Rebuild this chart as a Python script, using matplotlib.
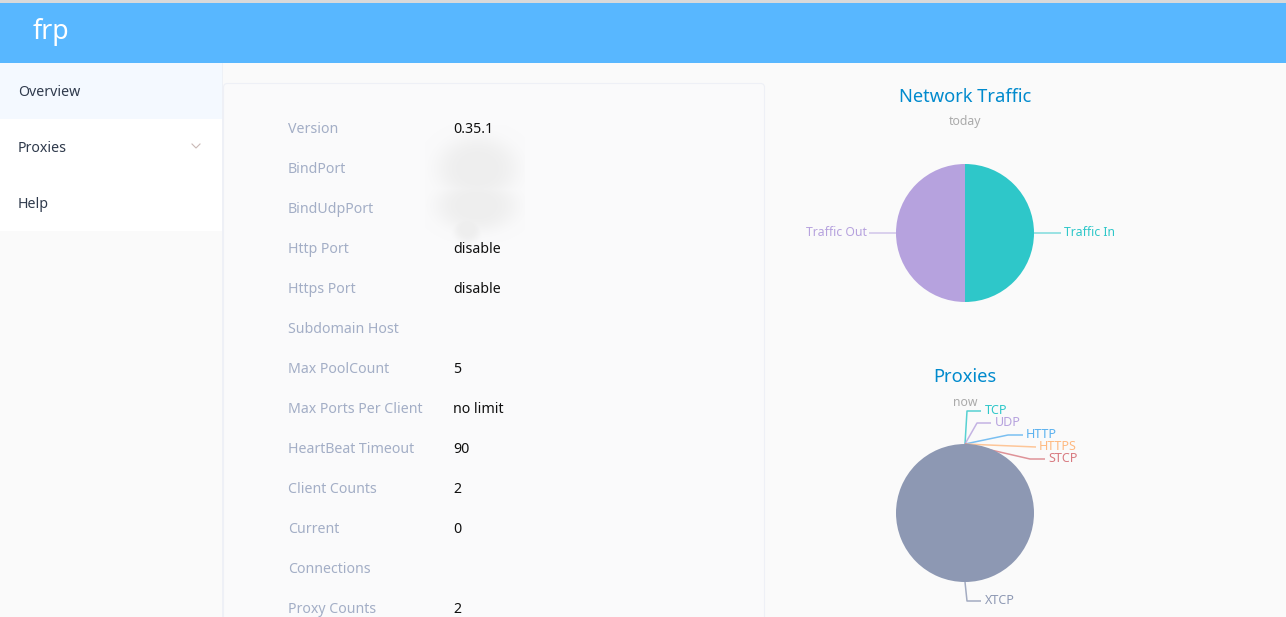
import matplotlib
matplotlib.use('Agg')
import numpy as np
import matplotlib.pyplot as plt
from matplotlib.patches import Rectangle, FancyBboxPatch

plt.rcParams['font.family'] = ['Noto Sans', 'DejaVu Sans']

# page content
menu_items = ['Overview', 'Proxies', 'Help']
info_labels = ['Version', 'BindPort', 'BindUdpPort', 'Http Port', 'Https Port',
               'Subdomain Host', 'Max PoolCount', 'Max Ports Per Client',
               'HeartBeat Timeout', 'Client Counts', 'Current', 'Connections',
               'Proxy Counts']
info_values = ['0.35.1', '', '', 'disable', 'disable', '', '5', 'no limit',
               '90', '2', '0', '', '2']

# pie data
traffic_labels = ['Traffic In', 'Traffic Out']
traffic_values = [50, 50]
traffic_colors = ['#2ec7c9', '#b6a2de']

proxy_labels = ['TCP', 'UDP', 'HTTP', 'HTTPS', 'STCP', 'XTCP']
proxy_values = [0, 0, 0, 0, 0, 2]
proxy_colors = ['#2ec7c9', '#b6a2de', '#5ab1ef', '#ffb980', '#d87a80', '#8d98b3']

W, H = 1286, 617
fig = plt.figure(figsize=(W / 100, H / 100), dpi=100, facecolor='#fafafa')
ax = fig.add_axes([0, 0, 1, 1])
ax.axis('off')


def rect(x, y, w, h, color, z=1):
    ax.add_patch(Rectangle((x, y), w, h, fc=color, ec='none', zorder=z))


def label(x, y, s, color, size=10.2, ha='left', **kw):
    # Noto Sans sits about 2px high with va=center
    ax.text(x, y + 2, s, color=color, fontsize=size, ha=ha, va='center', zorder=3, **kw)


# header
rect(0, 0, W, 3, '#d8d9da')
rect(0, 3, W, 60, '#58b7ff')
label(33, 30, 'frp', 'white', size=19.2)

# side menu
rect(0, 63, 222, 56, '#f4f9ff')
rect(0, 119, 222, 112, 'white')
rect(222, 63, 1, H - 63, '#eef1f6')
for i, name in enumerate(menu_items):
    label(18, 90.5 + i * 56, name, '#2f3a4c')
ax.plot([192, 196, 200], [144, 148, 144], color='#c9b9b5', lw=0.8)

# card
ax.add_patch(FancyBboxPatch((223.5, 83.5), 541, 600, boxstyle='round,pad=0,rounding_size=4',
                            fc='#fafafb', ec='#eef0f6', lw=0.8, zorder=1))
for i, (name, value) in enumerate(zip(info_labels, info_values)):
    y = 127.5 + i * 40
    label(288, y, name, '#a3aec6')
    label(453, y, value, '#101010')

# smudge over the port values, soft edged
gx, gy = np.meshgrid(np.arange(425.0, 525.0), np.arange(125.0, 250.0))
blobs = [(477, 168, 40, 32), (476, 205, 40, 26), (467, 228, 14, 14)]
amount = np.zeros(gx.shape)
for cx, cy, sx, sy in blobs:
    d = ((gx - cx) / sx) ** 2 + ((gy - cy) / sy) ** 2
    amount = np.maximum(amount, np.exp(-d ** 2))
smudge = np.zeros(gx.shape + (4,))
smudge[..., :3] = 0.935
smudge[..., 3] = amount
ax.imshow(smudge, extent=(425, 525, 250, 125), aspect='auto', interpolation='bilinear', zorder=2)
ax.set_xlim(0, W)
ax.set_ylim(H, 0)


def pie_axes(cx, cy, r, values, colors):
    pie_ax = fig.add_axes([(cx - r) / W, 1 - (cy + r) / H, 2 * r / W, 2 * r / H])
    pie_ax.pie(values, colors=colors, startangle=90, counterclock=False, radius=1)
    pie_ax.set_xlim(-1, 1)
    pie_ax.set_ylim(-1, 1)
    pie_ax.set_aspect('auto')
    pie_ax.axis('off')


def leader(xs, ys, color, alpha=0.6):
    ax.plot(xs, ys, color=color, lw=1.1, alpha=alpha, solid_capstyle='butt', zorder=2)


# network traffic
label(965, 95, 'Network Traffic', '#008acd', size=13.2, ha='center')
label(965, 120, 'today', '#aaaaaa', size=8.8, ha='center')
pie_axes(965, 233, 69, traffic_values, traffic_colors)
leader([1034, 1061], [233, 233], traffic_colors[0])
leader([896, 869], [233, 233], traffic_colors[1])
label(1064, 231, traffic_labels[0], traffic_colors[0], size=8.8)
label(867, 231, traffic_labels[1], traffic_colors[1], size=8.8, ha='right')

# proxies
label(965, 375, 'Proxies', '#008acd', size=13.2, ha='center')
label(965, 400, 'now', '#aaaaaa', size=8.8, ha='center')
pie_axes(965, 513, 69, proxy_values, proxy_colors)
# leader line ends per label: elbow x, elbow y, end x, text x, text y
proxy_leaders = [(967, 411, 981, 985, 409), (977, 423, 991, 995, 421),
                 (1008, 435, 1023, 1026, 433), (1036, 447, 1036, 1039, 445),
                 (1030, 459, 1045, 1048, 457), (967, 601, 981, 985, 599)]
for i, (ex, ey, tx, lx, ly) in enumerate(proxy_leaders):
    start_y = 582 if proxy_labels[i] == 'XTCP' else 444
    leader([965, ex, tx], [start_y, ey, ey], proxy_colors[i], alpha=0.8)
    label(lx, ly, proxy_labels[i], proxy_colors[i], size=9)

fig.savefig('out.png', dpi=100, facecolor=fig.get_facecolor())
